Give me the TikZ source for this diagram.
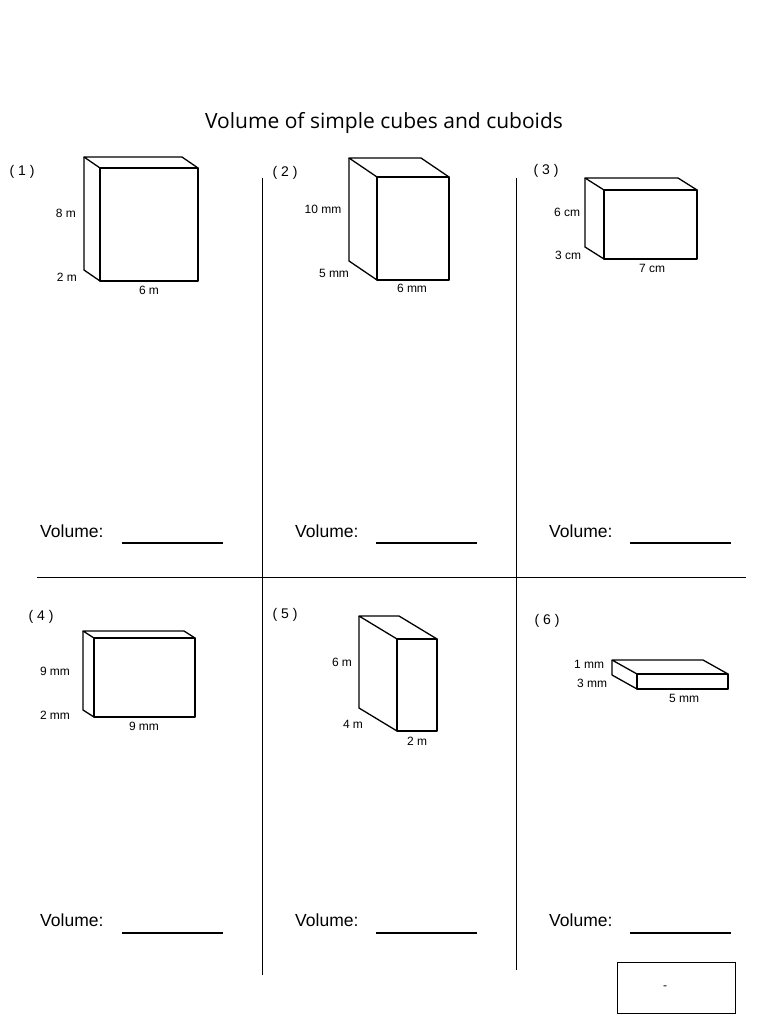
\documentclass[tikz,border=0pt]{standalone}
\usepackage{fontspec}
\setmainfont{Liberation Sans}
\newfontfamily\titlefont{Open Sans}
\begin{document}
\begin{tikzpicture}[x=1pt,y=-1pt,
  edge/.style={line width=1.3pt,line join=round},
  lbl/.style={font=\fontsize{12}{13}\selectfont,inner sep=0pt},
  num/.style={font=\fontsize{14}{15}\selectfont,inner sep=0pt},
  vol/.style={font=\fontsize{17.5}{19}\selectfont,inner sep=0pt,anchor=west},
  grid/.style={line width=0.8pt}]
\useasboundingbox (0,0) rectangle (768,1024);
\newcommand{\cuboid}[6]{%
  \draw[edge] (#1,#2) rectangle (#3,#4);
  \draw[edge] (#1,#2) -- ++(#5,#6) -- ++(#3-#1,0) -- (#3,#2);
  \draw[edge] (#1+#5,#2+#6) -- (#1+#5,#4+#6) -- (#1,#4);}
\node[font=\titlefont\fontsize{21}{23}\selectfont] (title) at (384,123) {Volume of simple cubes and cuboids};
\draw[grid] (262,178) -- (262,975);
\draw[grid] (516,178) -- (516,970);
\draw[grid] (37,577) -- (746,577);
\node[num] (n1) at (22,172) {( 1 )};
\node[num] (n2) at (285,173) {( 2 )};
\node[num] (n3) at (546,171) {( 3 )};
\node[num] (n4) at (41,617) {( 4 )};
\node[num] (n5) at (285,615) {( 5 )};
\node[num] (n6) at (547,621) {( 6 )};
\cuboid{100}{168}{198}{281}{-16}{-11}
\node[lbl] (a1) at (66,213) {8 m};
\node[lbl] (a2) at (67,277) {2 m};
\node[lbl] (a3) at (149,290) {6 m};
\cuboid{377}{177}{449}{280}{-28}{-19}
\node[lbl] (b1) at (323,209) {10 mm};
\node[lbl] (b2) at (334,273) {5 mm};
\node[lbl] (b3) at (412,288) {6 mm};
\cuboid{604}{190}{697}{259}{-19}{-12}
\node[lbl] (c1) at (567,212) {6 cm};
\node[lbl] (c2) at (568,255) {3 cm};
\node[lbl] (c3) at (652,268) {7 cm};
\cuboid{94}{638}{195}{717}{-11}{-7}
\node[lbl] (d1) at (55,671) {9 mm};
\node[lbl] (d2) at (55,715) {2 mm};
\node[lbl] (d3) at (144,726) {9 mm};
\cuboid{397}{639}{437}{731}{-38}{-23}
\node[lbl] (e1) at (342,662) {6 m};
\node[lbl] (e2) at (353,724) {4 m};
\node[lbl] (e3) at (417,741) {2 m};
\cuboid{637}{674}{728}{689}{-25}{-14}
\node[lbl] (f1) at (589,664) {1 mm};
\node[lbl] (f2) at (592,683) {3 mm};
\node[lbl] (f3) at (684,698) {5 mm};
\foreach \x/\u in {40/122,295/376,549/630}{
  \node[vol] at (\x,531) {Volume:};
  \node[vol] at (\x,920) {Volume:};
  \draw[line width=1.3pt] (\u,543) -- (\u+101,543);
  \draw[line width=1.3pt] (\u,933) -- (\u+101,933);
}
\node[draw,line width=0.8pt,minimum width=118pt,minimum height=51pt,inner sep=0pt] (box) at (676,987.5) {};
\node[lbl] (dash) at (665,988) {-};
\end{tikzpicture}
\end{document}
